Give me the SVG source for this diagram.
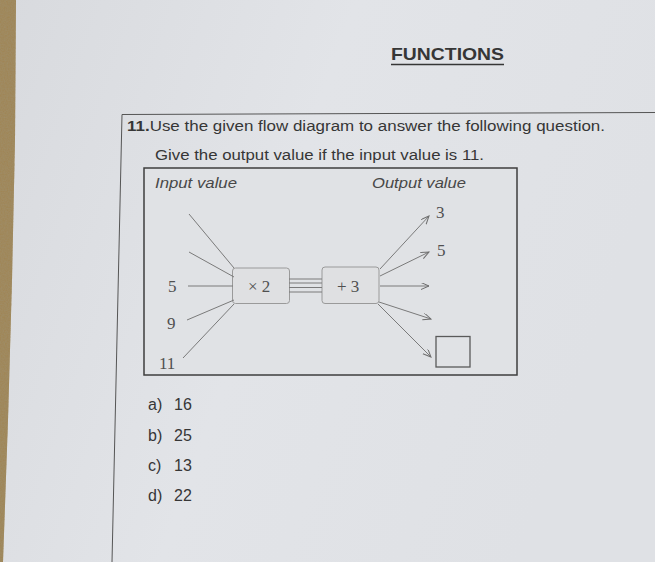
<svg xmlns="http://www.w3.org/2000/svg" width="655" height="562" viewBox="0 0 655 562">
<defs>
<linearGradient id="paper" x1="0" y1="0" x2="1" y2="0.3">
<stop offset="0" stop-color="#d8dade"/>
<stop offset="0.5" stop-color="#e2e4e8"/>
<stop offset="1" stop-color="#dfe1e5"/>
</linearGradient>
<filter id="grain" x="0" y="0" width="1" height="1">
<feTurbulence type="fractalNoise" baseFrequency="0.7" numOctaves="2" seed="3" result="n"/>
<feColorMatrix in="n" type="matrix" values="0 0 0 0 0.35  0 0 0 0 0.27  0 0 0 0 0.14  0 0 0 1.2 -0.2" result="c"/>
<feComposite in="c" in2="SourceGraphic" operator="in" result="t"/>
<feMerge><feMergeNode in="SourceGraphic"/><feMergeNode in="t"/></feMerge>
</filter>
<marker id="arr" markerUnits="userSpaceOnUse" markerWidth="10" markerHeight="8" refX="8" refY="3.5" orient="auto">
<path d="M0,0 L8,3.5 L0,7" fill="none" stroke="#6e6e6e" stroke-width="1"/>
</marker>
</defs>
<style>
.txt{font-family:"Liberation Sans",Arial,sans-serif;fill:#363636}
.num{font-family:"Liberation Serif","Times New Roman",serif;fill:#505050;font-size:17px}
.lbl{font-family:"Liberation Sans",Arial,sans-serif;font-style:italic;fill:#484848;font-size:15px}
.ln{stroke:#7a7a7a;stroke-width:1;fill:none}
.box{fill:#dfe0e2;stroke:#9a9a9a;stroke-width:1}
</style>
<rect width="655" height="562" fill="url(#paper)"/>
<polygon points="0,0 16,0 15,140 12,280 8,420 3,562 0,562" fill="#a08656" filter="url(#grain)"/>
<text class="txt" x="391" y="60" font-size="17" font-weight="bold" textLength="113" lengthAdjust="spacingAndGlyphs">FUNCTIONS</text>
<line x1="391" y1="64.5" x2="504" y2="64.5" stroke="#363636" stroke-width="1.5"/>
<path d="M122,114.5 L655,112.5 M122,114.5 L112,562" stroke="#555" stroke-width="1" fill="none"/>
<text class="txt" x="127" y="131" font-size="15.5" textLength="478" lengthAdjust="spacingAndGlyphs"><tspan font-weight="bold">11.</tspan>Use the given flow diagram to answer the following question.</text>
<text class="txt" x="155" y="160" font-size="15.5" textLength="329" lengthAdjust="spacingAndGlyphs">Give the output value if the input value is 11.</text>
<g id="frame">
<rect x="144" y="168" width="373" height="207" fill="#e0e2e5" stroke="#3e3e3e" stroke-width="1.5"/>
<text class="lbl" x="155" y="188" textLength="82" lengthAdjust="spacingAndGlyphs">Input value</text>
<text class="lbl" x="372" y="188" textLength="94" lengthAdjust="spacingAndGlyphs">Output value</text>
</g>
<g id="inputs">
<text class="num" x="168" y="292">5</text>
<text class="num" x="167" y="329">9</text>
<text class="num" x="159" y="369">11</text>
</g>
<g id="times2">
<rect class="box" x="232.5" y="268" width="57" height="35.5" rx="3"/>
<text class="num" x="248" y="292">× 2</text>
</g>
<g id="plus3">
<rect class="box" x="322" y="267" width="57" height="36.5" rx="3"/>
<text class="num" x="337" y="292">+ 3</text>
</g>
<g id="outputs">
<text class="num" x="436" y="218">3</text>
<text class="num" x="437" y="256">5</text>
<rect x="436" y="336.5" width="34" height="30.5" fill="none" stroke="#5a5a5a" stroke-width="1.3"/>
</g>
<g id="connectors">
<line class="ln" x1="189" y1="214" x2="234" y2="268"/>
<line class="ln" x1="189" y1="252" x2="234" y2="277"/>
<line class="ln" x1="188" y1="286" x2="233" y2="286"/>
<line class="ln" x1="187" y1="320" x2="234" y2="300"/>
<line class="ln" x1="183" y1="358" x2="234" y2="304"/>
<line class="ln" x1="289" y1="279" x2="322" y2="279"/>
<line class="ln" x1="289" y1="283" x2="322" y2="283"/>
<line class="ln" x1="289" y1="287.5" x2="322" y2="287.5"/>
<line class="ln" x1="289" y1="292" x2="322" y2="292"/>
<line class="ln" x1="380" y1="269" x2="429" y2="216" marker-end="url(#arr)"/>
<line class="ln" x1="380" y1="276" x2="429" y2="252" marker-end="url(#arr)"/>
<line class="ln" x1="380" y1="286" x2="429" y2="286" marker-end="url(#arr)"/>
<line class="ln" x1="379" y1="302" x2="431" y2="319" marker-end="url(#arr)"/>
<line class="ln" x1="378" y1="304" x2="431" y2="357" marker-end="url(#arr)"/>
</g>
<g id="options" class="txt" font-size="16">
<text x="148" y="410">a)</text><text x="174" y="410">16</text>
<text x="148" y="441">b)</text><text x="174" y="441">25</text>
<text x="148" y="471">c)</text><text x="174" y="471">13</text>
<text x="148" y="501">d)</text><text x="174" y="501">22</text>
</g>
</svg>
